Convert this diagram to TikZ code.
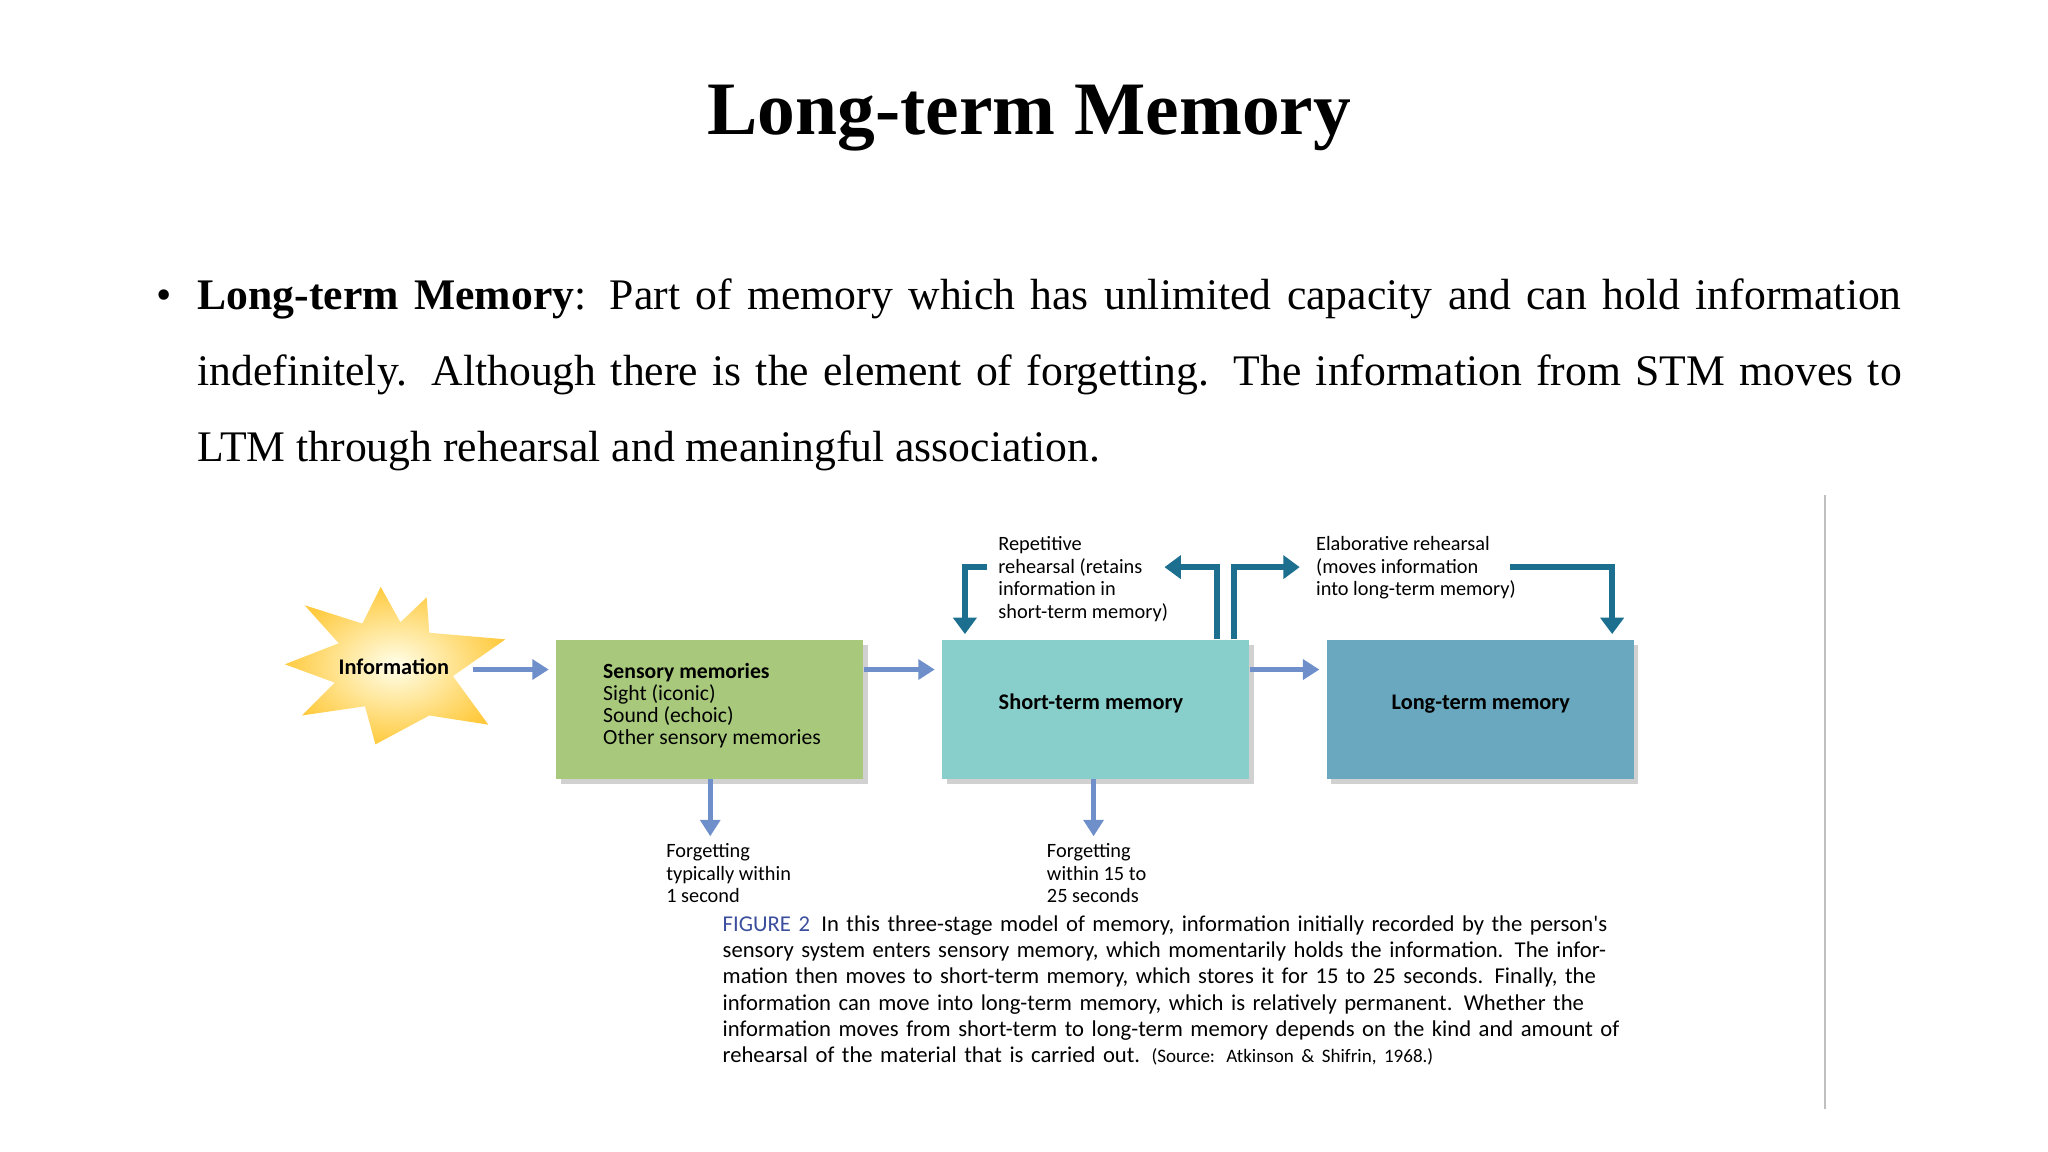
\documentclass[tikz,border=0pt]{standalone}
\usepackage{fontspec}
\setmainfont{Liberation Serif}
\newfontfamily\figfont{Carlito}
\usetikzlibrary{arrows.meta}
\definecolor{sens}{HTML}{A8C97C}
\definecolor{stm}{HTML}{88CFCB}
\definecolor{ltm}{HTML}{69A8BE}
\definecolor{larr}{HTML}{6E8FC9}
\definecolor{darr}{HTML}{1C6F8F}
\definecolor{capblue}{HTML}{3A4E9C}
\begin{document}
\begin{tikzpicture}[x=0.4pt,y=-0.4pt,
  box/.style={draw=none,minimum width=93.6pt,minimum height=42.4pt,inner sep=0,anchor=north west},
  lab/.style={font=\figfont\fontsize{6.2}{6.9}\selectfont,align=left,inner sep=0,anchor=north west},
  larrow/.style={larr,line width=1.5pt,-{Triangle[length=5pt,width=6pt]}},
  darrow/.style={darr,line width=1.7pt,-{Triangle[length=5pt,width=7pt]}},
  shadow/.style={fill=black!18}]
\useasboundingbox (0,0) rectangle (1560,877.5);
\node[font=\bfseries\fontsize{23}{27}\selectfont] (title) at (784,90) {Long-term Memory};
\node[anchor=north west,inner sep=0,text width=519.2pt,align=justify,font=\fontsize{13.3}{23.2}\selectfont] (body) at (150,212)
 {\textbf{Long-term Memory}: Part of memory which has unlimited capacity and can hold information indefinitely. Although there is the element of forgetting. The information from STM moves to LTM through rehearsal and meaningful association.};
\node[font=\fontsize{13.3}{16}\selectfont,anchor=east,inner sep=0] (bul) at (131,228) {\textbullet};
\draw[black!25,line width=0.5pt] (1390,377) coordinate (g1) -- (1390,845) coordinate (g2);
% starburst
\shade[inner color=yellow!8,outer color=orange!55!yellow!75!white] (300,508) -- plot[smooth cycle,tension=0] coordinates{
 (385,487) (345,515) (372,552) (327,545) (286,567) (278,538) (230,545) (255,520) (217,506) (258,490) (232,461) (276,475) (290,447) (305,474) (325,455) (327,482)};
\node[font=\figfont\bfseries\fontsize{6.8}{8}\selectfont,inner sep=0] (info) at (300,508) {Information};
% boxes with shadows
\fill[shadow] (427,491) rectangle (661,597);
\fill[shadow] (721,491) rectangle (955,597);
\fill[shadow] (1014,491) rectangle (1248,597);
\node[box,fill=sens] (sm) at (423,487) {};
\node[box,fill=stm] (st) at (717,487) {};
\node[box,fill=ltm] (lt) at (1010,487) {};
\node[lab,font=\figfont\fontsize{6.6}{6.7}\selectfont] (smt) at (459,505) {\textbf{Sensory memories}\\Sight (iconic)\\Sound (echoic)\\Other sensory memories};
\node[font=\figfont\bfseries\fontsize{6.8}{8}\selectfont,inner sep=0] (stt) at (831,536) {Short-term memory};
\node[font=\figfont\bfseries\fontsize{6.8}{8}\selectfont,inner sep=0] (ltt) at (1128,536) {Long-term memory};
% light arrows
\draw[larrow] (360,510) -- (418,510);
\draw[larrow] (sm.north east |- 0,510) -- (712,510);
\draw[larrow] (st.north east |- 0,510) -- (1005,510);
\draw[larrow] (541,593) -- (541,637);
\draw[larrow] (833,593) -- (833,637);
\node[lab] (f1) at (507,642) {Forgetting\\typically within\\1 second};
\node[lab] (f2) at (797,642) {Forgetting\\within 15 to\\25 seconds};
% dark arrows
\draw[darrow] (927,487) -- (927,432) -- (887,432);
\draw[darrow] (752,432) -- (735,432) -- (735,483);
\draw[darrow] (940,487) -- (940,432) -- (990,432);
\draw[darrow] (1150,432) -- (1228,432) -- (1228,483);
\node[lab] (rep) at (760,408) {Repetitive\\rehearsal (retains\\information in\\short-term memory)};
\node[lab] (ela) at (1002,408) {Elaborative rehearsal\\(moves information\\into long-term memory)};
% caption
\node[anchor=north west,inner sep=0,text width=274pt,align=left,font=\figfont\fontsize{6.9}{8}\selectfont] (cap) at (550,697)
 {{\color{capblue}FIGURE 2}\, In this three-stage model of memory, information initially recorded by the person's sensory system enters sensory memory, which momentarily holds the information. The infor-\\mation then moves to short-term memory, which stores it for 15 to 25 seconds. Finally, the information can move into long-term memory, which is relatively permanent. Whether the information moves from short-term to long-term memory depends on the kind and amount of rehearsal of the material that is carried out. {\fontsize{5.8}{8}\selectfont(Source: Atkinson \& Shifrin, 1968.)}};
\end{tikzpicture}
\end{document}
